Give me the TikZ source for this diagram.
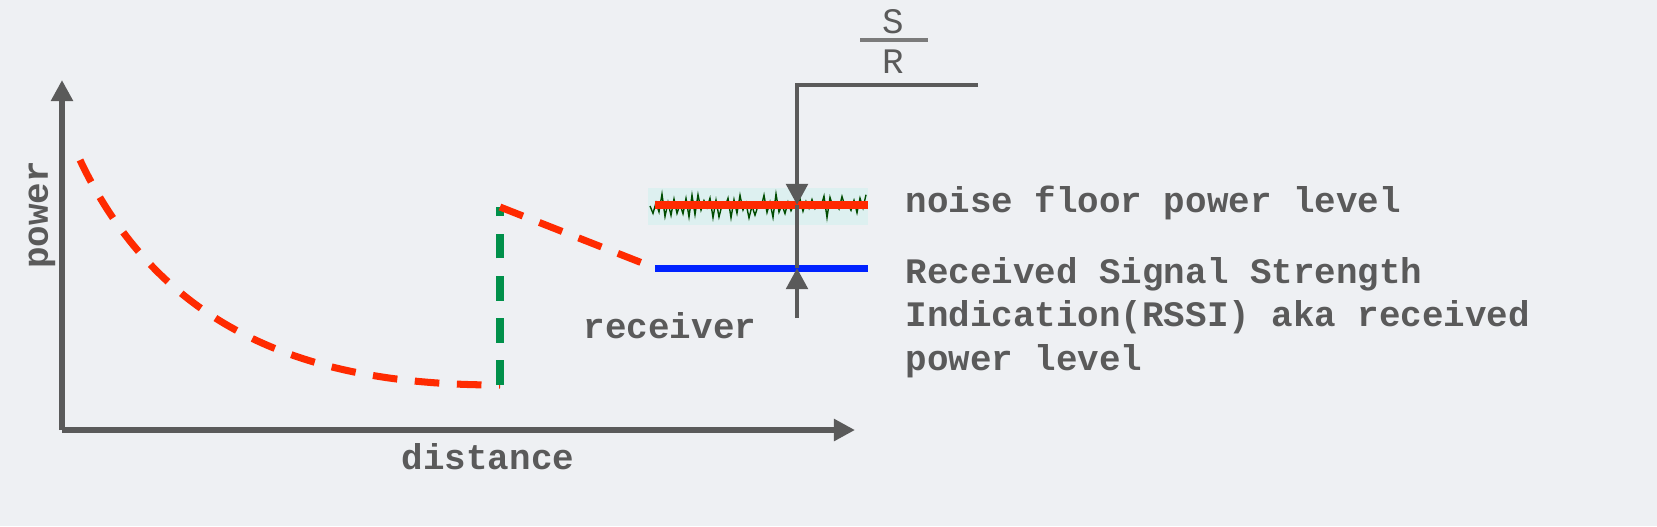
\documentclass[tikz,border=0pt]{standalone}
\usepackage{fontspec}
\setmainfont{Liberation Mono}
\usetikzlibrary{arrows.meta}
\definecolor{bg}{HTML}{EEF0F3}
\definecolor{ax}{HTML}{5A5A5A}
\definecolor{rd}{HTML}{FF2A00}
\definecolor{gr}{HTML}{00904A}
\definecolor{bl}{HTML}{0022FF}
\definecolor{nz}{HTML}{DDF0F0}
\begin{document}
\begin{tikzpicture}[x=0.01cm,y=-0.01cm,
  axis/.style={draw=ax,line width=1.5pt,-{Triangle[length=6pt,width=6pt]}},
  mydash/.style={line width=2pt,dash pattern=on 7pt off 5pt},
  lbl/.style={font=\fontsize{10.2}{14}\selectfont\bfseries,text=ax,inner sep=0pt}]
\fill[bg] (0,0) rectangle (1657,526);
\coordinate (o) at (62,430);
\coordinate (yt) at (62,80);
\coordinate (xt) at (855,430);
\draw[axis] (o) -- (yt);
\draw[axis] (o) -- (xt);
\node[lbl,rotate=90] (pw) at (42,215) {power};
\node[lbl] (ds) at (488,457) {distance};
\node[lbl] (rc) at (670,326) {receiver};
\coordinate (c0) at (80,160);
\coordinate (c1) at (500,385);
\coordinate (c2) at (500,207);
\coordinate (c3) at (655,268);
\draw[rd,mydash] (c0) .. controls (170,350) and (340,385) .. (c1);
\draw[gr,mydash] (c1) -- (c2);
\draw[rd,mydash] (c2) -- (c3);
% noise
\fill[nz] (648,188) rectangle (868,225);
\pgfmathsetseed{7}
\draw[black!70!green,line width=0.4pt] (650,206)
  \foreach \i in {1,...,72} { -- ({650+\i*3},{206+(mod(\i,2)==0?-1:1)*(6+rand*6)}) };
\coordinate (n0) at (655,205); \coordinate (n1) at (868,205);
\coordinate (b0) at (655,268); \coordinate (b1) at (868,268);
\draw[rd,line width=2pt] (n0) -- (n1);
\draw[bl,line width=2pt] (b0) -- (b1);
% S/R
\node[font=\fontsize{10.2}{12}\selectfont,text=ax,inner sep=0pt] (S) at (893,22) {S};
\node[font=\fontsize{10.2}{12}\selectfont,text=ax,inner sep=0pt] (R) at (893,62) {R};
\draw[ax!80,line width=1.4pt] (860,40) -- (928,40);
\coordinate (t0) at (978,85); \coordinate (t1) at (797,85);
\coordinate (nt) at (797,205); \coordinate (bt) at (797,268); \coordinate (bb) at (797,318);
\draw[ax,line width=1.4pt,-{Triangle[length=6pt,width=6pt]}] (t0) -- (t1) -- (nt);
\draw[ax,line width=1.4pt] (nt) -- (bt);
\draw[ax,line width=1.4pt,-{Triangle[length=6pt,width=6pt]}] (bb) -- (bt);
\node[lbl,anchor=west] (nf) at (905,203) {noise floor power level};
\node[lbl,anchor=north west,align=left,font=\fontsize{10.2}{12.3}\selectfont\bfseries] (rs) at (905,257) {Received Signal Strength\\Indication(RSSI) aka received\\power level};
\end{tikzpicture}
\end{document}
